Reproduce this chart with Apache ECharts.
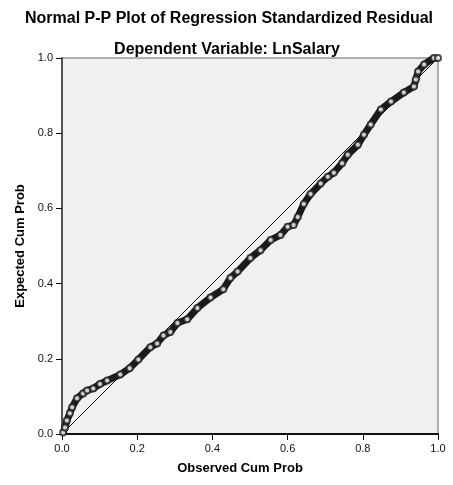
<!DOCTYPE html>
<html>
<head>
<meta charset="utf-8">
<script src="https://cdn.jsdelivr.net/npm/echarts@6/dist/echarts.min.js"></script>
<style>
html, body { margin: 0; padding: 0; background: #fff; }
#chart { width: 453px; height: 485px; }
</style>
</head>
<body>
<div id="chart"></div>
<script>
// observed cumulative probability (x) and expected cumulative probability (y)
var observed = [0.003, 0.008, 0.013, 0.021, 0.027, 0.040, 0.056, 0.067, 0.083, 0.101,
    0.120, 0.155, 0.180, 0.203, 0.235, 0.253, 0.270, 0.288, 0.307, 0.333,
    0.360, 0.395, 0.429, 0.448, 0.467, 0.501, 0.528, 0.555, 0.581, 0.600,
    0.616, 0.627, 0.643, 0.661, 0.688, 0.707, 0.723, 0.745, 0.760, 0.787,
    0.803, 0.821, 0.848, 0.875, 0.909, 0.936, 0.941, 0.947, 0.963, 0.989, 1.0];
var expected = [0.004, 0.017, 0.036, 0.055, 0.071, 0.095, 0.108, 0.116, 0.121, 0.133,
    0.142, 0.158, 0.175, 0.198, 0.231, 0.241, 0.262, 0.271, 0.295, 0.305,
    0.335, 0.363, 0.385, 0.415, 0.432, 0.468, 0.489, 0.516, 0.529, 0.551,
    0.556, 0.577, 0.612, 0.638, 0.666, 0.684, 0.695, 0.720, 0.743, 0.769,
    0.796, 0.823, 0.863, 0.884, 0.908, 0.924, 0.943, 0.964, 0.983, 1.0, 1.0];
var refLine = [0, 1];
var ticks = ['0.0', '0.2', '0.4', '0.6', '0.8', '1.0'];

var font = '"Liberation Sans", Arial, sans-serif';
var points = observed.map(function (x, i) { return [x, expected[i]]; });

var chart = echarts.init(document.getElementById('chart'));

function axis(name, gap, isY) {
    return {
        type: 'value',
        min: 0,
        max: 1,
        interval: 0.2,
        name: name,
        nameLocation: 'middle',
        nameGap: gap,
        nameTextStyle: {
            fontFamily: font, fontWeight: 'bold', fontSize: 13, color: '#000',
            // x title sits a bit left of the plot centre in the original
            padding: isY ? 0 : [0, 20, 0, 0]
        },
        axisLine: { show: true, lineStyle: { color: isY ? '#555' : '#111', width: 2 } },
        axisTick: { show: true, length: 6, lineStyle: { color: '#111', width: 1 } },
        axisLabel: {
            fontFamily: font, fontSize: 11, color: '#111', margin: 9,
            formatter: function (v) { return ticks[Math.round(v * 5)]; }
        },
        splitLine: { show: false }
    };
}

chart.setOption({
    animation: false,
    backgroundColor: '#fff',
    title: [{
        text: 'Normal P-P Plot of Regression Standardized Residual',
        left: 224, top: 6, textAlign: 'center',
        textStyle: { fontFamily: font, fontWeight: 'bold', fontSize: 16, color: '#000' }
    }, {
        text: 'Dependent Variable: LnSalary',
        left: 222, top: 37, textAlign: 'center',
        textStyle: { fontFamily: font, fontWeight: 'bold', fontSize: 16, color: '#000' }
    }],
    grid: {
        left: 62, right: 15, top: 58, bottom: 51,
        show: true, backgroundColor: '#f0f0f0', borderColor: '#666', borderWidth: 1
    },
    xAxis: axis('Observed Cum Prob', 28, false),
    yAxis: axis('Expected Cum Prob', 33, true),
    series: [{
        type: 'line',
        data: [[refLine[0], refLine[0]], [refLine[1], refLine[1]]],
        symbol: 'none',
        lineStyle: { color: '#111', width: 1 },
        z: 2
    }, {
        type: 'line',
        data: points,
        symbol: 'none',
        lineStyle: { color: '#1a1a1a', width: 7 },
        z: 3
    }, {
        type: 'scatter',
        data: points,
        symbol: 'emptyCircle',
        symbolSize: 6,
        itemStyle: { color: '#222', borderColor: '#222', borderWidth: 2 },
        z: 4
    }]
});
</script>
</body>
</html>
